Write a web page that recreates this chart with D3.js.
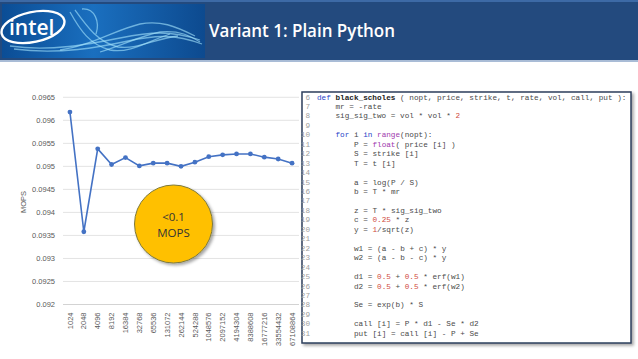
<!DOCTYPE html>
<html>
<head>
<meta charset="utf-8">
<script src="https://cdn.jsdelivr.net/npm/d3@7"></script>
<style>
  body { margin: 0; background: #fff; }
  svg { display: block; }
</style>
</head>
<body>
<svg id="slide" width="638" height="359"></svg>
<script>
var sizes = ["1024", "2048", "4096", "8192", "16384", "32768", "65536", "131072",
  "262144", "524288", "1048576", "2097152", "4194304", "8388608", "16777216",
  "33554432", "67108864"];
var mops = [0.09618, 0.09358, 0.09538, 0.09504, 0.09519, 0.09501, 0.09507, 0.09507,
  0.09500, 0.09509, 0.09521, 0.09525, 0.09527, 0.09527, 0.09520, 0.09516, 0.09507];
var yTicks = [0.092, 0.0925, 0.093, 0.0935, 0.094, 0.0945, 0.095, 0.0955, 0.096, 0.0965];

var codeLines = [
  "def black_scholes ( nopt, price, strike, t, rate, vol, call, put ):",
  "    mr = -rate",
  "    sig_sig_two = vol * vol * 2",
  "",
  "    for i in range(nopt):",
  "        P = float( price [i] )",
  "        S = strike [i]",
  "        T = t [i]",
  "",
  "        a = log(P / S)",
  "        b = T * mr",
  "",
  "        z = T * sig_sig_two",
  "        c = 0.25 * z",
  "        y = 1/sqrt(z)",
  "",
  "        w1 = (a - b + c) * y",
  "        w2 = (a - b - c) * y",
  "",
  "        d1 = 0.5 + 0.5 * erf(w1)",
  "        d2 = 0.5 + 0.5 * erf(w2)",
  "",
  "        Se = exp(b) * S",
  "",
  "        call [i] = P * d1 - Se * d2",
  "        put [i] = call [i] - P + Se"
];
var firstLineNo = 6;

var svg = d3.select("#slide");
var defs = svg.append("defs");

// header band
var g1 = defs.append("linearGradient").attr("id", "logoBg").attr("x1", 0).attr("x2", 1).attr("y1", 0).attr("y2", 0);
g1.append("stop").attr("offset", "0%").attr("stop-color", "#0b4d95");
g1.append("stop").attr("offset", "45%").attr("stop-color", "#1a6fbf");
g1.append("stop").attr("offset", "100%").attr("stop-color", "#0d4a8f");

var sh = defs.append("filter").attr("id", "shadow").attr("x", "-10%").attr("y", "-10%").attr("width", "130%").attr("height", "130%");
sh.append("feDropShadow").attr("dx", 2).attr("dy", 2).attr("stdDeviation", 1.5).attr("flood-color", "#000").attr("flood-opacity", 0.35);

svg.append("rect").attr("x", 0).attr("y", 0).attr("width", 638).attr("height", 61).attr("fill", "#234a7e");
svg.append("rect").attr("x", 0).attr("y", 0).attr("width", 638).attr("height", 2).attr("fill", "#3d6aa6");
svg.append("rect").attr("x", 0).attr("y", 60).attr("width", 638).attr("height", 2).attr("fill", "#a9bcd6");
svg.append("rect").attr("x", 2).attr("y", 4).attr("width", 203).attr("height", 54).attr("fill", "url(#logoBg)");

// swirl decoration
var swirls = [
  "M10,46 C50,52 90,44 120,38 C150,32 170,30 200,40",
  "M14,49 C60,55 100,47 128,41 C155,35 175,34 202,44",
  "M70,12 C80,30 90,45 110,50 C130,54 150,40 170,34",
  "M75,10 C88,28 98,42 118,47 C138,50 156,38 178,36",
  "M60,50 C90,46 115,30 140,24 C160,20 175,26 195,36",
  "M100,52 C120,46 140,36 160,32 C180,30 190,36 200,42",
  "M82,9 C95,8 100,22 96,34"
];
svg.append("g").selectAll("path").data(swirls).enter().append("path")
  .attr("d", function (d) { return d; })
  .attr("fill", "none")
  .attr("stroke", "#a8e8ff")
  .attr("stroke-opacity", 0.6)
  .attr("stroke-width", 1.3);

svg.append("ellipse").attr("cx", 33).attr("cy", 27).attr("rx", 32).attr("ry", 15)
  .attr("fill", "none").attr("stroke", "#fff").attr("stroke-width", 2.4)
  .attr("transform", "rotate(-12 33 27)");
svg.append("text").attr("x", 9).attr("y", 35).text("intel")
  .attr("fill", "#fff").attr("font-family", "Open Sans, sans-serif").attr("font-size", 21).attr("font-weight", 600);

svg.append("text").attr("x", 209).attr("y", 37).text("Variant 1: Plain Python")
  .attr("fill", "#fff").attr("font-family", "Open Sans, sans-serif").attr("font-weight", 600)
  .attr("font-size", 18).attr("textLength", 186).attr("lengthAdjust", "spacingAndGlyphs");

// chart
var x = d3.scaleBand().domain(sizes).range([63, 299]);
var y = d3.scaleLinear().domain([0.092, 0.0965]).range([304.5, 97.3]);
var chart = svg.append("g");

chart.selectAll(".grid").data(yTicks).enter().append("line")
  .attr("x1", 63).attr("x2", 299)
  .attr("y1", function (d) { return y(d); }).attr("y2", function (d) { return y(d); })
  .attr("stroke", function (d) { return d === 0.092 ? "#c8c8c8" : "#dcdcdc"; })
  .attr("stroke-width", 0.8);

var yAxis = chart.append("g").attr("transform", "translate(63,0)")
  .call(d3.axisLeft(y).tickValues(yTicks).tickSize(0).tickPadding(8).tickFormat(function (d) { return String(+d.toFixed(4)); }));
yAxis.select(".domain").remove();
yAxis.selectAll("text").attr("fill", "#595959").attr("font-family", "Liberation Sans, Arial, sans-serif").attr("font-size", 7.5);

var xAxis = chart.append("g").attr("transform", "translate(0,304.5)")
  .call(d3.axisBottom(x).tickSize(0));
xAxis.select(".domain").remove();
xAxis.selectAll("text")
  .attr("fill", "#595959").attr("font-family", "Liberation Sans, Arial, sans-serif").attr("font-size", 7.5)
  .attr("transform", "rotate(-90)").attr("text-anchor", "end")
  .attr("x", -8).attr("y", 0).attr("dy", "0.35em");

chart.append("text").attr("transform", "translate(26,202) rotate(-90)")
  .attr("text-anchor", "middle").attr("fill", "#595959")
  .attr("font-family", "Liberation Sans, Arial, sans-serif").attr("font-size", 7.5).text("MOPS");

var line = d3.line()
  .x(function (d, i) { return x(sizes[i]) + x.bandwidth() / 2; })
  .y(function (d) { return y(d); });
chart.append("path").datum(mops).attr("d", line)
  .attr("fill", "none").attr("stroke", "#4472c4").attr("stroke-width", 1.6);
chart.selectAll(".pt").data(mops).enter().append("circle")
  .attr("cx", function (d, i) { return x(sizes[i]) + x.bandwidth() / 2; })
  .attr("cy", function (d) { return y(d); })
  .attr("r", 2.4).attr("fill", "#4472c4");

// callout bubble
svg.append("circle").attr("cx", 173.5).attr("cy", 224).attr("r", 39)
  .attr("fill", "#ffc000").attr("stroke", "#7f7a3a").attr("stroke-width", 1)
  .attr("filter", "url(#shadow)");
svg.append("text").attr("x", 173.5).attr("y", 221).attr("text-anchor", "middle")
  .attr("fill", "#333").attr("font-family", "Open Sans, sans-serif").attr("font-size", 11.5).text("<0.1");
svg.append("text").attr("x", 173.5).attr("y", 237).attr("text-anchor", "middle")
  .attr("fill", "#333").attr("font-family", "Open Sans, sans-serif").attr("font-size", 11.5).text("MOPS");

// code panel
svg.append("rect").attr("x", 302).attr("y", 92).attr("width", 329).attr("height", 251)
  .attr("fill", "#fff").attr("stroke", "#2d3f5c").attr("stroke-width", 1.5)
  .attr("filter", "url(#shadow)");

var keywords = ["def", "for", "in"];
var builtins = ["range", "float"];
var code = svg.append("g").attr("font-family", "Liberation Mono, DejaVu Sans Mono, monospace").attr("font-size", 7.7);
codeLines.forEach(function (ln, i) {
  var yy = 99.5 + i * 9.45;
  code.append("text").attr("x", 310).attr("y", yy).attr("text-anchor", "end")
    .attr("fill", "#a0a0a0").text(firstLineNo + i);
  var t = code.append("text").attr("x", 317).attr("y", yy).attr("xml:space", "preserve").attr("fill", "#4a4a4a");
  var toks = ln.match(/(\s+|[A-Za-z_][A-Za-z_0-9]*|\d+\.?\d*|.)/g) || [];
  var prev = "";
  toks.forEach(function (tk) {
    var ts = t.append("tspan").text(tk);
    if (keywords.indexOf(tk) >= 0) ts.attr("fill", "#2a45c8");
    else if (builtins.indexOf(tk) >= 0) ts.attr("fill", "#a03aae");
    else if (/^\d/.test(tk)) ts.attr("fill", "#d04a40");
    else if (prev === "def") ts.attr("font-weight", 700).attr("fill", "#222");
    if (/\S/.test(tk)) prev = tk;
  });
});
</script>
</body>
</html>
